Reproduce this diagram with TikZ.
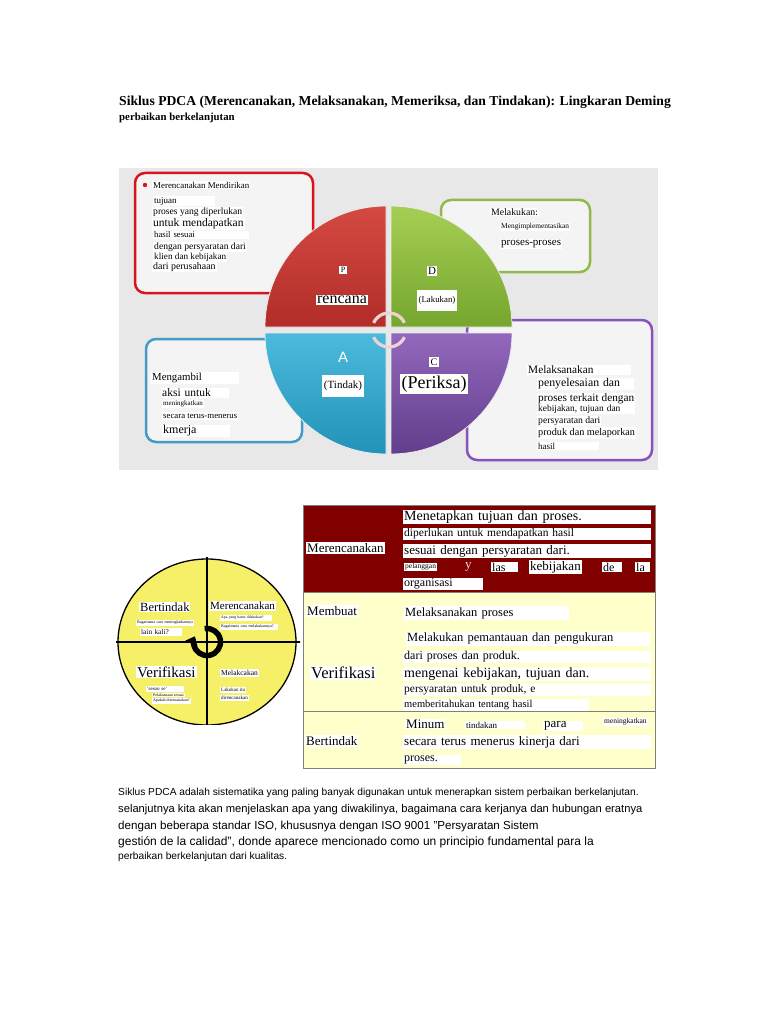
\documentclass[tikz,border=0pt]{standalone}
\usepackage{fontspec}
\setmainfont{Liberation Serif}
\setsansfont{Liberation Sans}
\usetikzlibrary{arrows.meta, positioning}

\newcommand{\fsz}[1]{\fontsize{#1}{#1}\selectfont}

\definecolor{panelgray}{RGB}{232,232,232}
\definecolor{cardgray}{RGB}{244,244,244}
\definecolor{qred}{RGB}{178,44,40}
\definecolor{qredlt}{RGB}{212,74,66}
\definecolor{qgreen}{RGB}{118,166,46}
\definecolor{qgreenlt}{RGB}{166,206,84}
\definecolor{qblue}{RGB}{34,146,184}
\definecolor{qbluelt}{RGB}{76,186,220}
\definecolor{qpurple}{RGB}{98,62,140}
\definecolor{qpurplelt}{RGB}{146,104,188}
\definecolor{edgered}{RGB}{214,22,28}
\definecolor{edgegreen}{RGB}{146,184,78}
\definecolor{edgeblue}{RGB}{66,156,196}
\definecolor{edgepurple}{RGB}{136,82,190}
\definecolor{ringpink}{RGB}{236,212,212}
\definecolor{yelfill}{RGB}{246,240,104}
\definecolor{darkred}{RGB}{128,0,0}
\definecolor{paleyel}{RGB}{255,255,204}

\begin{document}
\begin{tikzpicture}[x=1pt, y=-1pt,
    lbl/.style = {anchor=west, inner sep=1pt},
    strip/.style = {lbl, fill=white},
    wstrip/.style = {strip, text width=#1},
    card/.style = {rounded corners=10pt, line width=2.5pt, fill=cardgray},
    quad/.style = {draw=white!85!gray, line width=0.8pt},
    tag/.style = {fill=white, inner sep=1.5pt},
    cross/.style = {line width=1.3pt},
  ]
  \useasboundingbox[fill=white] (0,0) rectangle (768,1024);

  % heading
  \node[lbl, font=\bfseries\fsz{13.65}] (title) at (118,102) {Siklus PDCA (Merencanakan, Melaksanakan, Memeriksa, dan Tindakan): Lingkaran Deming};
  \node[lbl, font=\bfseries\fsz{10.8}] (subtitle) at (118,118) {perbaikan berkelanjutan};

  % --- upper diagram ---
  \fill[panelgray] (119,168) rectangle (658,470);
  \draw[card, draw=edgered] (135,173) rectangle (313,293);
  \draw[card, draw=edgegreen] (441,200) rectangle (590,272);
  \draw[card, draw=edgeblue] (146,339) rectangle (302,442);
  \draw[card, draw=edgepurple] (467,320) rectangle (652,460);

  % plan card
  \fill[edgered] (145,185) circle[radius=2.2];
  \node[strip, font=\fsz{8.9}] (p0) at (152,185) {Merencanakan Mendirikan};
  \node[wstrip=60, font=\fsz{9}] (p1) at (153,201) {tujuan};
  \node[strip, font=\fsz{9.6}] (p2) at (152,212) {proses yang diperlukan};
  \node[strip, font=\fsz{11.5}] (p3) at (152,224) {untuk mendapatkan};
  \node[wstrip=94, font=\fsz{8.7}] (p4) at (153,235) {hasil sesuai};
  \node[strip, font=\fsz{9.6}] (p5) at (153,247) {dengan persyaratan dari};
  \node[strip, font=\fsz{9.2}] (p6) at (153,257) {klien dan kebijakan};
  \node[strip, font=\fsz{9.9}] (p7) at (152,267) {dari perusahaan};

  % do card
  \node[strip, font=\fsz{9.8}] (d0) at (490,212) {Melakukan:};
  \node[strip, font=\fsz{7.4}] (d1) at (500,227) {Mengimplementasikan};
  \node[strip, font=\fsz{11}] (d2) at (500,244) {proses-proses};

  % act card
  \node[wstrip=86, font=\fsz{10.8}] (a0) at (151,378) {Mengambil};
  \node[wstrip=66, font=\fsz{11.5}] (a1) at (161,393) {aksi untuk};
  \node[strip, font=\fsz{7}] (a2) at (162,404) {meningkatkan};
  \node[strip, font=\fsz{8.8}] (a3) at (162,416) {secara terus-menerus};
  \node[wstrip=66, font=\fsz{12}] (a4) at (162,431) {kmerja};

  % check card
  \node[wstrip=102, font=\fsz{11.3}] (c0) at (527,370) {Melaksanakan};
  \node[wstrip=95, font=\fsz{11.8}] (c1) at (537,384) {penyelesaian dan};
  \node[strip, font=\fsz{11.3}] (c2) at (537,399) {proses terkait dengan};
  \node[wstrip=96, font=\fsz{9.4}] (c3) at (537,409) {kebijakan, tujuan dan};
  \node[strip, font=\fsz{9.7}] (c4) at (537,421) {persyaratan dari};
  \node[strip, font=\fsz{10.2}] (c5) at (537,433) {produk dan melaporkan};
  \node[wstrip=60, font=\fsz{9}] (c6) at (537,446) {hasil};

  % wheel
  \shadedraw[quad, top color=qredlt, bottom color=qred] (386,327) -- ++(180:121) arc[start angle=180, end angle=270, radius=121] -- cycle;
  \shadedraw[quad, top color=qgreenlt, bottom color=qgreen] (391,327) -- ++(270:121) arc[start angle=270, end angle=360, radius=121] -- cycle;
  \shadedraw[quad, top color=qpurplelt, bottom color=qpurple] (391,333) -- ++(0:121) arc[start angle=0, end angle=90, radius=121] -- cycle;
  \shadedraw[quad, top color=qbluelt, bottom color=qblue] (386,333) -- ++(90:121) arc[start angle=90, end angle=180, radius=121] -- cycle;
  \coordinate (hub) at (389,330);
  \draw[ringpink, line width=3.2pt] (hub) ++(205:17) arc[start angle=205, end angle=335, radius=17];
  \draw[ringpink, line width=3.2pt] (hub) ++(25:17) arc[start angle=25, end angle=155, radius=17];

  \node[tag, font=\fsz{8}] (plet) at (343,270) {P};
  \node[tag, font=\fsz{16}] (plan) at (342,300) {rencana};
  \node[tag, font=\fsz{11}] (dlet) at (432,271) {D};
  \node[tag, font=\fsz{8.8}, minimum height=21] (do) at (437,300) {(Lakukan)};
  \node[text=white, font=\sffamily\fsz{15}] (alet) at (343,357) {A};
  \node[tag, font=\fsz{11}, minimum height=22] (act) at (343,386) {(Tindak)};
  \node[tag, font=\fsz{10}] (clet) at (434,362) {C};
  \node[tag, font=\fsz{18}] (check) at (434,384) {(Periksa)};

  % --- yellow circle ---
  \coordinate (ymid) at (207,642);
  \begin{scope}
    \clip (116,557) rectangle (300,724);
    \filldraw[fill=yelfill, draw=black, cross] (ymid) ellipse[x radius=89, y radius=83];
    \draw[cross] (207,550) -- (207,735);
    \draw[cross] (110,642) -- (305,642);
  \end{scope}
  \draw[line width=5.5pt, -{Triangle[length=8pt, width=13pt]}] (ymid) ++(-100:13.5) arc[start angle=-100, end angle=205, radius=13.5];

  \node[strip, font=\fsz{12.5}] (ybt) at (139,607) {Bertindak};
  \node[wstrip=56, font=\fsz{4}] (ybt1) at (136,623) {Bagaimana cara meningkatkannya};
  \node[wstrip=40, font=\fsz{7.3}] (ybt2) at (140,632) {lain kali?};
  \node[strip, font=\fsz{11}] (ymr) at (209,606) {Merencanakan};
  \node[wstrip=50, font=\fsz{3.8}] (ymr1) at (220,618) {Apa yang harus dilakukan?};
  \node[wstrip=56, font=\fsz{4}] (ymr2) at (220,627) {Bagaimana cara melakukannya?};
  \node[strip, font=\fsz{15}] (yvf) at (136,672) {Verifikasi};
  \node[wstrip=36, font=\fsz{5}] (yvf1) at (146,689) {'sesoo se'};
  \node[strip, font=\fsz{4}] (yvf2) at (152,695) {Pelaksanaan sesuai};
  \node[strip, font=\fsz{4}] (yvf3) at (152,701) {Apakah direncanakan?};
  \node[strip, font=\fsz{7.5}] (yml) at (220,673) {Melakcakan};
  \node[strip, font=\fsz{5}] (yml1) at (220,690) {Lakukan itu};
  \node[strip, font=\fsz{5}] (yml2) at (220,698) {direncanakan};

  % --- table ---
  \fill[darkred] (303,505) rectangle (655,592);
  \fill[paleyel] (303,592) rectangle (655,768);
  \draw[gray, line width=1pt] (303,505) rectangle (655,768);
  \draw[gray, line width=1pt] (303,592) -- (655,592);
  \draw[gray, line width=1pt] (303,711) -- (655,711);

  \node[strip, font=\fsz{13}] (tplan) at (306,548) {Merencanakan};
  \node[wstrip=246, font=\fsz{14}] (tp1) at (403,517) {Menetapkan tujuan dan proses.};
  \node[wstrip=246, font=\fsz{11.5}] (tp2) at (403,534) {diperlukan untuk mendapatkan hasil};
  \node[wstrip=246, font=\fsz{13}] (tp3) at (403,551) {sesuai dengan persyaratan dari.};
  \node[strip, font=\fsz{7.5}] (tp4) at (404,567) {pelanggan};
  \node[lbl, font=\fsz{13}, text=pink!60!white] (tp5) at (464,567) {y};
  \node[wstrip=25, font=\fsz{12}] (tp6) at (491,567) {las};
  \node[strip, font=\fsz{13}] (tp7) at (529,567) {kebijakan};
  \node[wstrip=18, font=\fsz{12}] (tp8) at (602,567) {de};
  \node[wstrip=13, font=\fsz{12}] (tp9) at (635,567) {la};
  \node[wstrip=78, font=\fsz{12}] (tp10) at (403,584) {organisasi};

  \node[strip, font=\fsz{13}] (tdo) at (306,611) {Membuat};
  \node[wstrip=163, font=\fsz{12.5}] (td1) at (404,613) {Melaksanakan proses};
  \node[wstrip=242, font=\fsz{12.5}] (tv1) at (406,639) {Melakukan pemantauan dan pengukuran};
  \node[wstrip=246, font=\fsz{12}] (tv2) at (403,657) {dari proses dan produk.};
  \node[strip, font=\fsz{16.5}] (tchk) at (310,673) {Verifikasi};
  \node[wstrip=246, font=\fsz{14}] (tv3) at (403,674) {mengenai kebijakan, tujuan dan.};
  \node[wstrip=246, font=\fsz{11.5}] (tv4) at (403,690) {persyaratan untuk produk, e};
  \node[wstrip=184, font=\fsz{10.5}] (tv5) at (403,705) {memberitahukan tentang hasil};

  \node[strip, font=\fsz{13}] (tact) at (305,741) {Bertindak};
  \node[strip, font=\fsz{13}] (ta1) at (405,724) {Minum};
  \node[wstrip=58, font=\fsz{9}] (ta2) at (465,725) {tindakan};
  \node[wstrip=38, font=\fsz{13}] (ta3) at (543,726) {para};
  \node[strip, font=\fsz{7.5}] (ta4) at (603,722) {meningkatkan};
  \node[wstrip=246, font=\fsz{13}] (ta5) at (403,742) {secara terus menerus kinerja dari};
  \node[wstrip=56, font=\fsz{12}] (ta6) at (403,760) {proses.};

  % --- closing text ---
  \node[lbl, font=\sffamily\fsz{10.2}] (n1) at (117,793) {Siklus PDCA adalah sistematika yang paling banyak digunakan untuk menerapkan sistem perbaikan berkelanjutan.};
  \node[lbl, font=\sffamily\fsz{11.2}] (n2) at (117,810) {selanjutnya kita akan menjelaskan apa yang diwakilinya, bagaimana cara kerjanya dan hubungan eratnya};
  \node[lbl, font=\sffamily\fsz{11.6}] (n3) at (117,826) {dengan beberapa standar ISO, khususnya dengan ISO 9001 "Persyaratan Sistem};
  \node[lbl, font=\sffamily\fsz{12}] (n4) at (117,842) {gestión de la calidad", donde aparece mencionado como un principio fundamental para la};
  \node[lbl, font=\sffamily\fsz{10.2}] (n5) at (117,857) {perbaikan berkelanjutan dari kualitas.};
\end{tikzpicture}
\end{document}
